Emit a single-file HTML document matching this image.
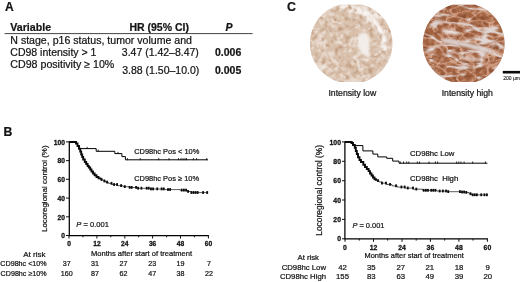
<!DOCTYPE html>
<html><head><meta charset="utf-8"><title>Figure</title>
<style>
html,body{margin:0;padding:0;background:#fff;}
body{width:520px;height:282px;overflow:hidden;}
svg{display:block;}
text{font-family:"Liberation Sans",Arial,sans-serif;fill:#141414;stroke:#141414;stroke-width:0.22px;}
.b{font-weight:bold;}
.i{font-style:italic;}
.t{font-size:10.5px;}
.g{font-size:7.5px;}
.k{font-size:7.2px;font-weight:bold;}
.n{font-size:7.3px;}
</style></head><body>
<svg width="520" height="282" viewBox="0 0 520 282">
<defs>
<filter id="fl" x="0" y="0" width="100%" height="100%" color-interpolation-filters="sRGB">
<feTurbulence type="turbulence" baseFrequency="0.05 0.06" numOctaves="3" seed="40" result="n"/>
<feColorMatrix in="n" type="matrix" values="0 0 0 0 0.95  0 0 0 0 0.92  0 0 0 0 0.9  -6 0 0 0 1.1" result="c"/>
<feTurbulence type="fractalNoise" baseFrequency="0.2" numOctaves="2" seed="5" result="hi"/>
<feColorMatrix in="hi" type="matrix" values="0 0 0 0 0.74  0 0 0 0 0.59  0 0 0 0 0.47  0 0 2.6 0 -1.2" result="hd"/>
<feColorMatrix in="hi" type="matrix" values="0 0 0 0 0.95  0 0 0 0 0.91  0 0 0 0 0.88  2.4 0 0 0 -1.15" result="hl"/>
<feMerge result="m"><feMergeNode in="hd"/><feMergeNode in="hl"/><feMergeNode in="c"/></feMerge>
<feComposite in="m" in2="SourceGraphic" operator="in"/>
</filter>
<filter id="fh" x="0" y="0" width="100%" height="100%" color-interpolation-filters="sRGB">
<feTurbulence type="turbulence" baseFrequency="0.03 0.09" numOctaves="2" seed="33" result="n"/>
<feColorMatrix in="n" type="matrix" values="0 0 0 0 0.88  0 0 0 0 0.84  0 0 0 0 0.83  -8 0 0 0 1.38" result="c"/>
<feTurbulence type="fractalNoise" baseFrequency="0.22" numOctaves="2" seed="5" result="hi"/>
<feColorMatrix in="hi" type="matrix" values="0 0 0 0 0.5  0 0 0 0 0.27  0 0 0 0 0.17  0 0 2.5 0 -1.2" result="hd"/>
<feColorMatrix in="hi" type="matrix" values="0 0 0 0 0.8  0 0 0 0 0.6  0 0 0 0 0.49  2.5 0 0 0 -1.15" result="hl"/>
<feTurbulence type="turbulence" baseFrequency="0.07 0.13" numOctaves="1" seed="8" result="n2"/>
<feColorMatrix in="n2" type="matrix" values="0 0 0 0 0.85  0 0 0 0 0.66  0 0 0 0 0.56  -9 0 0 0 0.95" result="c2"/>
<feMerge result="m"><feMergeNode in="hd"/><feMergeNode in="hl"/><feMergeNode in="c2"/><feMergeNode in="c"/></feMerge>
<feComposite in="m" in2="SourceGraphic" operator="in"/>
</filter>
<filter id="bl2" x="-20%" y="-20%" width="140%" height="140%"><feGaussianBlur stdDeviation="0.5"/></filter>
<filter id="bl" x="-20%" y="-20%" width="140%" height="140%"><feGaussianBlur stdDeviation="0.8"/></filter>
<clipPath id="cr"><rect x="300" y="4.8" width="220" height="77.3"/></clipPath>
<clipPath id="cl" clip-path="url(#cr)"><ellipse cx="351.2" cy="43.5" rx="41.3" ry="40.3"/></clipPath>
<clipPath id="ch" clip-path="url(#cr)"><ellipse cx="463.7" cy="43.5" rx="40.9" ry="40.3"/></clipPath>
</defs>
<rect width="520" height="282" fill="#fff"/>

<text x="5" y="11.3" class="b" style="font-size:12px">A</text>
<text x="10.3" y="30.6" class="b t" style="font-size:10.65px">Variable</text>
<text x="129.4" y="30.8" class="b t">HR (95% CI)</text>
<text x="225.4" y="30.8" class="b i t">P</text>
<rect x="4.6" y="33.1" width="248" height="1" fill="#444"/>
<text x="10.3" y="43.8" class="t" style="font-size:10.58px">N stage, p16 status, tumor volume and</text>
<text x="10.3" y="55.8" class="t">CD98 intensity &gt; 1</text>
<text x="121.8" y="55.5" class="t">3.47 (1.42–8.47)</text>
<text x="215" y="55.5" class="b t">0.006</text>
<text x="10.3" y="68.3" class="t" style="font-size:10.65px">CD98 positivity ≥ 10%</text>
<text x="122.2" y="74.2" class="t">3.88 (1.50–10.0)</text>
<text x="215" y="74.2" class="b t">0.005</text>
<text x="3.6" y="136" class="b" style="font-size:12.2px">B</text>
<text x="287" y="11.1" class="b" style="font-size:12.4px">C</text>
<g clip-path="url(#cl)"><rect x="308" y="3" width="88" height="84" fill="#d9c1ad"/>
<g filter="url(#bl)" fill="none" stroke-linecap="round">
<path d="M343 6.7 C350 7.5 356 9 361.5 11.5 C366 14 370 17 373 21 C376.5 25 379 29 380.8 32.7 C383 37 384.3 40.5 384.6 44 C384.8 47 384 50 382.5 52.5" stroke="#faf7f5" stroke-width="6" opacity="1"/>
<path d="M362 7.5 C368 9.5 374 13 379 18" stroke="#f6f1ed" stroke-width="4" opacity="0.9"/>
<path d="M312 40 C316 38 322 41 326 44 C322 47 316 47 312 45 Z" fill="#efe4dc" stroke="none" opacity="0.75"/>
<path d="M316 58 C320 60 324 64 328 68 C324 70 319 66 316 62 Z" fill="#efe4dc" stroke="none" opacity="0.7"/>
<path d="M330 78 C340 79 352 82 364 79 L358 84 L338 83 Z" fill="#efe6df" stroke="none" opacity="0.7"/>
<path d="M320 14 C324 10 330 8 336 6 L334 10 C329 12 325 15 322 18 Z" fill="#efe6df" stroke="none" opacity="0.6"/>
</g>
<g transform="translate(307.2 -0.6) rotate(-30 44 44)"><rect x="-12" y="-12" width="112" height="112" fill="#fff" filter="url(#fl)"/></g>
<g filter="url(#bl)">
<path d="M360 33.5 C362 31.5 366 32 367.8 36 C369.5 41 370.3 46 369.3 50.5 C368.8 53.5 369.8 56 368.2 57.5 C365 56 361 53 358.6 48.5 C357 44 357.3 37.5 360 33.5 Z" fill="#f4f0ed" opacity="0.95"/>
</g></g>
<g clip-path="url(#ch)"><rect x="421" y="3" width="86" height="82" fill="#a26240"/><g transform="translate(333.7 -180.6) rotate(6 130 224)"><rect x="80" y="174" width="100" height="100" fill="#fff" filter="url(#fh)"/></g>
<g filter="url(#bl)">
<path d="M441 39 C444 37.8 448 38.6 452 39.2 C456 39.6 459 41.6 463 41.4 C468 42 472 44.2 476 44.8 C481 46.4 485 47.4 489 49.2 C491.5 50.2 494 51 495.5 52.6 C493 54.2 490 52.8 487 52.6 C483 51.4 479 51.2 475 49.6 C471 49 467 47.2 463 46.8 C459 45.6 455 45.4 451 44.2 C447 43.8 443 43.4 441 39 Z" fill="#dcd2d0" opacity="0.95"/>
<path d="M442 29.4 C446 28.6 450 30.2 454 30.8 C456.5 31.4 458.5 32.4 460 33.6 C458 35.6 455 34.4 452 34.2 C448.5 33.8 445 33.6 442.5 32.4 Z" fill="#ebe3df" opacity="0.95"/>
<path d="M429.5 25.5 C432 22.6 436 20.6 441 19 C441.8 20.6 440 22 437.5 23 C434.5 24.4 432.5 26.4 431 28 Z" fill="#d9cdc9" opacity="0.9"/>
<path d="M425.5 50.5 C430 47.6 436 45.4 441.5 43.4 C442.6 45 440 46.6 437 47.6 C433 49.4 429.5 51.6 426.5 53 Z" fill="#e4dad6" opacity="0.85"/>
<path d="M459 56 C465 56.4 472 57.6 478 58.4 C481 58.8 483.5 59.4 485 60.6 C482 62 478 61 474 60.6 C469 60 463.5 59.6 459.5 58.6 Z" fill="#e0d5d1" opacity="0.85"/>
</g></g>
<text x="352.3" y="96.3" text-anchor="middle" style="font-size:8.7px">Intensity low</text>
<text x="467.3" y="96.3" text-anchor="middle" style="font-size:8.7px">Intensity high</text>
<rect x="502.8" y="70.9" width="17.2" height="2.6" fill="#0a0a0a"/>
<text x="503.2" y="79.5" style="font-size:5px;stroke-width:0.1px">200 µm</text>
<path d="M69.3 141.4 V235.6 H208.9" fill="none" stroke="#000" stroke-width="1.25"/>
<path d="M66.0 235.5 H69.0" stroke="#111" stroke-width="1"/>
<text transform="translate(65.0 238.3) scale(0.93 1)" text-anchor="end" class="b" style="font-size:7.2px;stroke-width:0.3px">0</text>
<path d="M66.0 216.8 H69.0" stroke="#111" stroke-width="1"/>
<text transform="translate(65.0 219.6) scale(0.93 1)" text-anchor="end" class="b" style="font-size:7.2px;stroke-width:0.3px">20</text>
<path d="M66.0 198.1 H69.0" stroke="#111" stroke-width="1"/>
<text transform="translate(65.0 200.9) scale(0.93 1)" text-anchor="end" class="b" style="font-size:7.2px;stroke-width:0.3px">40</text>
<path d="M66.0 179.3 H69.0" stroke="#111" stroke-width="1"/>
<text transform="translate(65.0 182.1) scale(0.93 1)" text-anchor="end" class="b" style="font-size:7.2px;stroke-width:0.3px">60</text>
<path d="M66.0 160.6 H69.0" stroke="#111" stroke-width="1"/>
<text transform="translate(65.0 163.4) scale(0.93 1)" text-anchor="end" class="b" style="font-size:7.2px;stroke-width:0.3px">80</text>
<path d="M66.0 141.9 H69.0" stroke="#111" stroke-width="1"/>
<text transform="translate(65.0 144.7) scale(0.93 1)" text-anchor="end" class="b" style="font-size:7.2px;stroke-width:0.3px">100</text>
<path d="M69.0 235.5 V238.5" stroke="#111" stroke-width="1"/>
<text transform="translate(69.0 246.4) scale(0.93 1)" text-anchor="middle" class="b" style="font-size:7.2px;stroke-width:0.3px">0</text>
<path d="M82.9 235.5 V237.3" stroke="#111" stroke-width="1"/>
<path d="M96.9 235.5 V238.5" stroke="#111" stroke-width="1"/>
<text transform="translate(96.9 246.4) scale(0.93 1)" text-anchor="middle" class="b" style="font-size:7.2px;stroke-width:0.3px">12</text>
<path d="M110.8 235.5 V237.3" stroke="#111" stroke-width="1"/>
<path d="M124.8 235.5 V238.5" stroke="#111" stroke-width="1"/>
<text transform="translate(124.8 246.4) scale(0.93 1)" text-anchor="middle" class="b" style="font-size:7.2px;stroke-width:0.3px">24</text>
<path d="M138.7 235.5 V237.3" stroke="#111" stroke-width="1"/>
<path d="M152.6 235.5 V238.5" stroke="#111" stroke-width="1"/>
<text transform="translate(152.6 246.4) scale(0.93 1)" text-anchor="middle" class="b" style="font-size:7.2px;stroke-width:0.3px">36</text>
<path d="M166.6 235.5 V237.3" stroke="#111" stroke-width="1"/>
<path d="M180.5 235.5 V238.5" stroke="#111" stroke-width="1"/>
<text transform="translate(180.5 246.4) scale(0.93 1)" text-anchor="middle" class="b" style="font-size:7.2px;stroke-width:0.3px">48</text>
<path d="M194.4 235.5 V237.3" stroke="#111" stroke-width="1"/>
<path d="M208.4 235.5 V238.5" stroke="#111" stroke-width="1"/>
<text transform="translate(208.4 246.4) scale(0.93 1)" text-anchor="middle" class="b" style="font-size:7.2px;stroke-width:0.3px">60</text>
<text transform="translate(46.6,188.7) rotate(-90)" text-anchor="middle" style="font-size:8.0px">Locoregional control (%)</text>
<text x="91.0" y="255.8" style="font-size:7.56px">Months after start of treatment</text>
<path d="M69.0 142.0 H76.0 V143.5 H77.5 V146.0 H79.0 V148.6 H96.2 V151.3 H114.8 V153.6 H121.9 V156.6 H125.4 V159.8 H208.0 V159.8" fill="none" stroke="#000" stroke-width="1"/>
<path d="M69.0 142.0 H76.0 V143.5 H77.5 V146.0 H79.0 V148.8 H80.2 V151.5 H81.2 V154.5 H82.2 V157.0 H83.2 V159.5 H84.8 V162.0 H86.2 V164.0 H87.6 V166.0 H88.8 V167.5 H90.2 V169.5 H91.5 V171.5 H93.0 V173.5 H94.6 V175.3 H96.5 V177.0 H98.5 V178.4 H100.5 V179.6" fill="none" stroke="#0a0a0a" stroke-width="1.9"/>
<path d="M100.5 179.6 H103.0 V181.0 H105.5 V182.2 H108.4 V183.4 H112.0 V184.6 H117.6 V185.7 H123.0 V186.7 H129.0 V187.5 H137.0 V188.3 H150.0 V189.0 H165.0 V189.6 H180.0 V190.2 H187.0 V191.5 H191.0 V192.6 H208.0 V192.6" fill="none" stroke="#333" stroke-width="0.8"/>
<path d="M87.1 146.9 V149.0" stroke="#111" stroke-width="0.9"/>
<path d="M98.2 149.6 V151.7" stroke="#111" stroke-width="0.9"/>
<path d="M118.0 151.9 V154.0" stroke="#111" stroke-width="0.9"/>
<path d="M127.4 158.1 V160.2" stroke="#111" stroke-width="0.9"/>
<path d="M140.2 158.1 V160.2" stroke="#111" stroke-width="0.9"/>
<path d="M158.7 158.1 V160.2" stroke="#111" stroke-width="0.9"/>
<path d="M169.0 158.1 V160.2" stroke="#111" stroke-width="0.9"/>
<path d="M178.5 158.1 V160.2" stroke="#111" stroke-width="0.9"/>
<path d="M181.0 158.1 V160.2" stroke="#111" stroke-width="0.9"/>
<path d="M183.0 158.1 V160.2" stroke="#111" stroke-width="0.9"/>
<path d="M185.0 158.1 V160.2" stroke="#111" stroke-width="0.9"/>
<path d="M186.5 158.1 V160.2" stroke="#111" stroke-width="0.9"/>
<path d="M193.4 158.1 V160.2" stroke="#111" stroke-width="0.9"/>
<path d="M196.6 158.1 V160.2" stroke="#111" stroke-width="0.9"/>
<path d="M206.7 158.1 V160.2" stroke="#111" stroke-width="0.9"/>
<rect x="100.6" y="178.1" width="1.8" height="2.8" fill="#0a0a0a"/>
<rect x="103.5" y="179.5" width="1.8" height="2.8" fill="#0a0a0a"/>
<rect x="106.2" y="180.7" width="1.8" height="2.8" fill="#0a0a0a"/>
<rect x="110.6" y="181.9" width="1.8" height="2.8" fill="#0a0a0a"/>
<rect x="113.2" y="183.1" width="1.8" height="2.8" fill="#0a0a0a"/>
<rect x="116.2" y="183.1" width="1.8" height="2.8" fill="#0a0a0a"/>
<rect x="120.2" y="184.2" width="1.8" height="2.8" fill="#0a0a0a"/>
<rect x="123.9" y="185.2" width="1.8" height="2.8" fill="#0a0a0a"/>
<rect x="128.8" y="186.0" width="1.8" height="2.8" fill="#0a0a0a"/>
<rect x="130.8" y="186.0" width="1.8" height="2.8" fill="#0a0a0a"/>
<rect x="135.2" y="186.0" width="1.8" height="2.8" fill="#0a0a0a"/>
<rect x="137.2" y="186.8" width="1.8" height="2.8" fill="#0a0a0a"/>
<rect x="140.5" y="186.8" width="1.8" height="2.8" fill="#0a0a0a"/>
<rect x="145.8" y="186.8" width="1.8" height="2.8" fill="#0a0a0a"/>
<rect x="147.8" y="186.8" width="1.8" height="2.8" fill="#0a0a0a"/>
<rect x="150.1" y="187.5" width="1.8" height="2.8" fill="#0a0a0a"/>
<rect x="152.2" y="187.5" width="1.8" height="2.8" fill="#0a0a0a"/>
<rect x="156.3" y="187.5" width="1.8" height="2.8" fill="#0a0a0a"/>
<rect x="160.7" y="187.5" width="1.8" height="2.8" fill="#0a0a0a"/>
<rect x="162.8" y="187.5" width="1.8" height="2.8" fill="#0a0a0a"/>
<rect x="167.1" y="188.1" width="1.8" height="2.8" fill="#0a0a0a"/>
<rect x="169.2" y="188.1" width="1.8" height="2.8" fill="#0a0a0a"/>
<rect x="180.8" y="188.7" width="1.8" height="2.8" fill="#0a0a0a"/>
<rect x="183.0" y="188.7" width="1.8" height="2.8" fill="#0a0a0a"/>
<rect x="185.2" y="188.7" width="1.8" height="2.8" fill="#0a0a0a"/>
<rect x="187.2" y="190.0" width="1.8" height="2.8" fill="#0a0a0a"/>
<rect x="190.5" y="191.1" width="1.8" height="2.8" fill="#0a0a0a"/>
<rect x="192.6" y="191.1" width="1.8" height="2.8" fill="#0a0a0a"/>
<rect x="194.7" y="191.1" width="1.8" height="2.8" fill="#0a0a0a"/>
<rect x="196.8" y="191.1" width="1.8" height="2.8" fill="#0a0a0a"/>
<rect x="202.2" y="191.1" width="1.8" height="2.8" fill="#0a0a0a"/>
<rect x="206.3" y="191.1" width="1.8" height="2.8" fill="#0a0a0a"/>
<text x="134.2" y="153.5" style="font-size:7.45px;white-space:pre">CD98hc Pos &lt; 10%</text>
<text x="134.2" y="180.8" style="font-size:7.45px;white-space:pre">CD98hc Pos ≥ 10%</text>
<text x="76.3" y="226.8" style="font-size:7.55px"><tspan class="i">P</tspan> = 0.001</text>
<text x="45.5" y="256.5" text-anchor="end" style="font-size:8.0px">At risk</text>
<text x="46.6" y="266.3" text-anchor="end" style="font-size:7.15px">CD98hc &lt;10%</text>
<text x="66.7" y="266.3" text-anchor="middle" style="font-size:7.15px">37</text>
<text x="95.0" y="266.3" text-anchor="middle" style="font-size:7.15px">31</text>
<text x="123.6" y="266.3" text-anchor="middle" style="font-size:7.15px">27</text>
<text x="152.3" y="266.3" text-anchor="middle" style="font-size:7.15px">23</text>
<text x="180.6" y="266.3" text-anchor="middle" style="font-size:7.15px">19</text>
<text x="209.0" y="266.3" text-anchor="middle" style="font-size:7.15px">7</text>
<text x="46.6" y="275.5" text-anchor="end" style="font-size:7.15px">CD98hc ≥10%</text>
<text x="66.7" y="275.5" text-anchor="middle" style="font-size:7.15px">160</text>
<text x="95.0" y="275.5" text-anchor="middle" style="font-size:7.15px">87</text>
<text x="123.6" y="275.5" text-anchor="middle" style="font-size:7.15px">62</text>
<text x="152.3" y="275.5" text-anchor="middle" style="font-size:7.15px">47</text>
<text x="180.6" y="275.5" text-anchor="middle" style="font-size:7.15px">38</text>
<text x="209.0" y="275.5" text-anchor="middle" style="font-size:7.15px">22</text>
<path d="M344.9 141.4 V238.8 H487.9" fill="none" stroke="#000" stroke-width="1.25"/>
<path d="M342.0 238.8 H345.0" stroke="#111" stroke-width="1"/>
<text transform="translate(341.0 241.4) scale(0.93 1)" text-anchor="end" class="b" style="font-size:7.4px;stroke-width:0.3px">0</text>
<path d="M342.0 219.4 H345.0" stroke="#111" stroke-width="1"/>
<text transform="translate(341.0 222.1) scale(0.93 1)" text-anchor="end" class="b" style="font-size:7.4px;stroke-width:0.3px">20</text>
<path d="M342.0 200.0 H345.0" stroke="#111" stroke-width="1"/>
<text transform="translate(341.0 202.7) scale(0.93 1)" text-anchor="end" class="b" style="font-size:7.4px;stroke-width:0.3px">40</text>
<path d="M342.0 180.7 H345.0" stroke="#111" stroke-width="1"/>
<text transform="translate(341.0 183.4) scale(0.93 1)" text-anchor="end" class="b" style="font-size:7.4px;stroke-width:0.3px">60</text>
<path d="M342.0 161.3 H345.0" stroke="#111" stroke-width="1"/>
<text transform="translate(341.0 164.0) scale(0.93 1)" text-anchor="end" class="b" style="font-size:7.4px;stroke-width:0.3px">80</text>
<path d="M342.0 141.9 H345.0" stroke="#111" stroke-width="1"/>
<text transform="translate(341.0 144.6) scale(0.93 1)" text-anchor="end" class="b" style="font-size:7.4px;stroke-width:0.3px">100</text>
<path d="M345.0 238.8 V241.8" stroke="#111" stroke-width="1"/>
<text transform="translate(345.0 250.4) scale(0.93 1)" text-anchor="middle" class="b" style="font-size:7.4px;stroke-width:0.3px">0</text>
<path d="M359.2 238.8 V240.6" stroke="#111" stroke-width="1"/>
<path d="M373.5 238.8 V241.8" stroke="#111" stroke-width="1"/>
<text transform="translate(373.5 250.4) scale(0.93 1)" text-anchor="middle" class="b" style="font-size:7.4px;stroke-width:0.3px">12</text>
<path d="M387.7 238.8 V240.6" stroke="#111" stroke-width="1"/>
<path d="M402.0 238.8 V241.8" stroke="#111" stroke-width="1"/>
<text transform="translate(402.0 250.4) scale(0.93 1)" text-anchor="middle" class="b" style="font-size:7.4px;stroke-width:0.3px">24</text>
<path d="M416.2 238.8 V240.6" stroke="#111" stroke-width="1"/>
<path d="M430.4 238.8 V241.8" stroke="#111" stroke-width="1"/>
<text transform="translate(430.4 250.4) scale(0.93 1)" text-anchor="middle" class="b" style="font-size:7.4px;stroke-width:0.3px">36</text>
<path d="M444.7 238.8 V240.6" stroke="#111" stroke-width="1"/>
<path d="M458.9 238.8 V241.8" stroke="#111" stroke-width="1"/>
<text transform="translate(458.9 250.4) scale(0.93 1)" text-anchor="middle" class="b" style="font-size:7.4px;stroke-width:0.3px">48</text>
<path d="M473.1 238.8 V240.6" stroke="#111" stroke-width="1"/>
<path d="M487.4 238.8 V241.8" stroke="#111" stroke-width="1"/>
<text transform="translate(487.4 250.4) scale(0.93 1)" text-anchor="middle" class="b" style="font-size:7.4px;stroke-width:0.3px">60</text>
<text transform="translate(322.4,190.3) rotate(-90)" text-anchor="middle" style="font-size:8.4px">Locoregional control (%)</text>
<text x="364.5" y="258.2" style="font-size:7.41px">Months after start of treatment</text>
<path d="M345.0 142.0 H352.7 V145.6 H362.9 V150.9 H372.9 V154.1 H377.8 V156.9 H386.7 V158.3 H392.7 V161.1 H399.0 V163.2 H487.4 V163.2" fill="none" stroke="#000" stroke-width="1"/>
<path d="M345.0 142.0 H351.5 V143.0 H353.0 V145.0 H354.8 V147.7 H355.8 V151.0 H356.8 V154.0 H358.0 V157.3 H359.5 V160.0 H361.0 V162.0 H363.3 V164.7 H365.0 V167.0 H366.8 V169.0 H368.6 V171.1 H370.0 V173.5 H371.5 V175.5 H372.9 V177.5 H374.5 V179.3 H376.0 V180.7" fill="none" stroke="#0a0a0a" stroke-width="1.9"/>
<path d="M376.0 180.7 H379.0 V182.0 H382.0 V183.2 H386.7 V184.5 H392.0 V185.9 H397.3 V187.1 H404.8 V188.1 H413.5 V189.2 H422.7 V190.4 H437.0 V191.1 H448.2 V191.7 H460.0 V192.1 H466.3 V192.5 H469.0 V193.8 H471.6 V194.9 H487.5 V194.9" fill="none" stroke="#333" stroke-width="0.8"/>
<path d="M400.3 161.5 V163.6" stroke="#111" stroke-width="0.9"/>
<path d="M403.5 161.5 V163.6" stroke="#111" stroke-width="0.9"/>
<path d="M406.7 161.5 V163.6" stroke="#111" stroke-width="0.9"/>
<path d="M408.8 161.5 V163.6" stroke="#111" stroke-width="0.9"/>
<path d="M417.3 161.5 V163.6" stroke="#111" stroke-width="0.9"/>
<path d="M419.5 161.5 V163.6" stroke="#111" stroke-width="0.9"/>
<path d="M429.0 161.5 V163.6" stroke="#111" stroke-width="0.9"/>
<path d="M435.4 161.5 V163.6" stroke="#111" stroke-width="0.9"/>
<path d="M437.6 161.5 V163.6" stroke="#111" stroke-width="0.9"/>
<path d="M456.7 161.5 V163.6" stroke="#111" stroke-width="0.9"/>
<path d="M458.8 161.5 V163.6" stroke="#111" stroke-width="0.9"/>
<path d="M461.0 161.5 V163.6" stroke="#111" stroke-width="0.9"/>
<path d="M464.1 161.5 V163.6" stroke="#111" stroke-width="0.9"/>
<path d="M472.7 161.5 V163.6" stroke="#111" stroke-width="0.9"/>
<path d="M485.4 161.5 V163.6" stroke="#111" stroke-width="0.9"/>
<rect x="377.1" y="179.2" width="1.8" height="2.8" fill="#0a0a0a"/>
<rect x="381.1" y="181.7" width="1.8" height="2.8" fill="#0a0a0a"/>
<rect x="385.1" y="181.7" width="1.8" height="2.8" fill="#0a0a0a"/>
<rect x="389.1" y="183.0" width="1.8" height="2.8" fill="#0a0a0a"/>
<rect x="395.1" y="184.4" width="1.8" height="2.8" fill="#0a0a0a"/>
<rect x="400.5" y="185.6" width="1.8" height="2.8" fill="#0a0a0a"/>
<rect x="403.8" y="185.6" width="1.8" height="2.8" fill="#0a0a0a"/>
<rect x="406.9" y="186.6" width="1.8" height="2.8" fill="#0a0a0a"/>
<rect x="412.1" y="186.6" width="1.8" height="2.8" fill="#0a0a0a"/>
<rect x="415.4" y="187.7" width="1.8" height="2.8" fill="#0a0a0a"/>
<rect x="422.8" y="188.9" width="1.8" height="2.8" fill="#0a0a0a"/>
<rect x="425.0" y="188.9" width="1.8" height="2.8" fill="#0a0a0a"/>
<rect x="427.1" y="188.9" width="1.8" height="2.8" fill="#0a0a0a"/>
<rect x="430.3" y="188.9" width="1.8" height="2.8" fill="#0a0a0a"/>
<rect x="432.4" y="188.9" width="1.8" height="2.8" fill="#0a0a0a"/>
<rect x="434.5" y="188.9" width="1.8" height="2.8" fill="#0a0a0a"/>
<rect x="438.8" y="189.6" width="1.8" height="2.8" fill="#0a0a0a"/>
<rect x="442.0" y="189.6" width="1.8" height="2.8" fill="#0a0a0a"/>
<rect x="445.1" y="189.6" width="1.8" height="2.8" fill="#0a0a0a"/>
<rect x="447.3" y="190.2" width="1.8" height="2.8" fill="#0a0a0a"/>
<rect x="459.0" y="190.2" width="1.8" height="2.8" fill="#0a0a0a"/>
<rect x="461.1" y="190.6" width="1.8" height="2.8" fill="#0a0a0a"/>
<rect x="463.2" y="190.6" width="1.8" height="2.8" fill="#0a0a0a"/>
<rect x="465.4" y="191.0" width="1.8" height="2.8" fill="#0a0a0a"/>
<rect x="469.6" y="192.3" width="1.8" height="2.8" fill="#0a0a0a"/>
<rect x="471.8" y="193.4" width="1.8" height="2.8" fill="#0a0a0a"/>
<rect x="473.9" y="193.4" width="1.8" height="2.8" fill="#0a0a0a"/>
<rect x="476.0" y="193.4" width="1.8" height="2.8" fill="#0a0a0a"/>
<rect x="480.3" y="193.4" width="1.8" height="2.8" fill="#0a0a0a"/>
<rect x="483.5" y="193.4" width="1.8" height="2.8" fill="#0a0a0a"/>
<rect x="486.0" y="193.4" width="1.8" height="2.8" fill="#0a0a0a"/>
<text x="410" y="155.7" style="font-size:7.75px;white-space:pre">CD98hc Low</text>
<text x="410" y="181.1" style="font-size:7.75px;white-space:pre">CD98hc  High</text>
<text x="352.4" y="227.9" style="font-size:7.45px"><tspan class="i">P</tspan> = 0.001</text>
<text x="319" y="259.7" text-anchor="end" style="font-size:7.75px">At risk</text>
<text x="326" y="269.7" text-anchor="end" style="font-size:7.75px">CD98hc Low</text>
<text x="342.5" y="269.7" text-anchor="middle" style="font-size:7.75px">42</text>
<text x="371.3" y="269.7" text-anchor="middle" style="font-size:7.75px">35</text>
<text x="400.8" y="269.7" text-anchor="middle" style="font-size:7.75px">27</text>
<text x="429.8" y="269.7" text-anchor="middle" style="font-size:7.75px">21</text>
<text x="459.0" y="269.7" text-anchor="middle" style="font-size:7.75px">18</text>
<text x="487.7" y="269.7" text-anchor="middle" style="font-size:7.75px">9</text>
<text x="326" y="279.3" text-anchor="end" style="font-size:7.75px">CD98hc High</text>
<text x="342.5" y="279.3" text-anchor="middle" style="font-size:7.75px">155</text>
<text x="371.3" y="279.3" text-anchor="middle" style="font-size:7.75px">83</text>
<text x="400.8" y="279.3" text-anchor="middle" style="font-size:7.75px">63</text>
<text x="429.8" y="279.3" text-anchor="middle" style="font-size:7.75px">49</text>
<text x="459.0" y="279.3" text-anchor="middle" style="font-size:7.75px">39</text>
<text x="487.7" y="279.3" text-anchor="middle" style="font-size:7.75px">20</text>
</svg></body></html>
